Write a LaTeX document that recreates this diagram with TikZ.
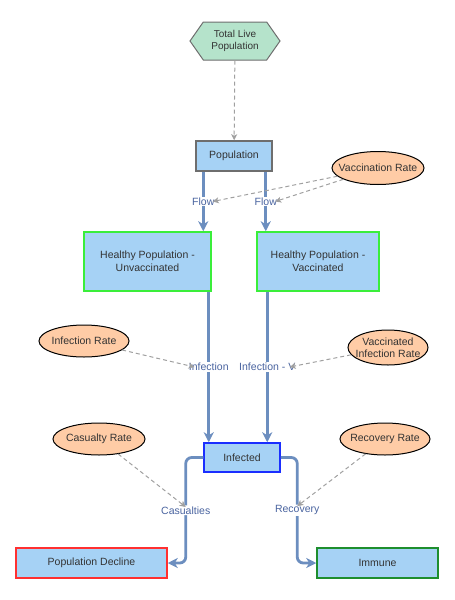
\documentclass[tikz,border=0pt]{standalone}
\usepackage{fontspec}
\setmainfont{Liberation Sans}
\usepackage{xcolor}
\usetikzlibrary{shapes.geometric, shapes.symbols, arrows.meta}
\definecolor{boxblue}{HTML}{A6D2F5}
\definecolor{peach}{HTML}{FFCCA6}
\definecolor{mint}{HTML}{B5E3CB}
\definecolor{hexgray}{HTML}{6E6E6E}
\definecolor{flowblue}{HTML}{6C8EBF}
\definecolor{labelblue}{HTML}{4A64A0}
\definecolor{textgray}{HTML}{333333}
\definecolor{dashgray}{HTML}{A0A0A0}
\definecolor{brightgreen}{HTML}{3AEE3A}
\definecolor{darkgreen}{HTML}{1E8E2E}
\definecolor{alertred}{HTML}{FF3030}
\definecolor{infblue}{HTML}{1A2EFF}
\tikzstyle{stock} = [font=\fontsize{10.5}{13}\selectfont, rectangle, minimum width=76pt, minimum height=30pt, align=center, draw=hexgray, line width=1.5pt, fill=boxblue, text=textgray]
\tikzstyle{rate} = [ellipse, minimum width=92pt, minimum height=33pt, inner sep=0pt, draw=black, line width=1pt, fill=peach]
\tikzstyle{rate text} = [font=\fontsize{10.5}{12}\selectfont, align=center, text=textgray]
\tikzstyle{source} = [font=\fontsize{10}{11.5}\selectfont, signal, signal to=east and west, signal pointer angle=110, minimum width=90pt, minimum height=38pt, inner sep=0pt, align=center, draw=hexgray, line width=1pt, fill=mint, text=textgray]
\tikzstyle{flowlabel} = [font=\fontsize{10.5}{12}\selectfont, fill=white, inner sep=1pt, text=labelblue]
\tikzstyle{flow} = [line width=2.8pt, draw=flowblue, -{Stealth[length=10pt, width=10pt, inset=3pt]}]
\tikzstyle{link} = [dash pattern=on 4pt off 3pt, line width=1pt, draw=dashgray, -{Stealth[length=6pt, width=6pt, inset=1.5pt]}]

\begin{document}
\begin{tikzpicture}[x=1pt, y=-1pt]
  \useasboundingbox (0,0) rectangle (455,600);
  \node (total_pop) [source] at (235,41) {Total Live\\Population};
  \node (population) [stock] at (234,156) {Population};
  \node (vacc_rate) [rate, label={[rate text]center:Vaccination Rate}] at (378,168) {};
  \node (unvacc) [stock, draw=brightgreen, minimum width=127pt, minimum height=59pt] at (147.5,261.5) {Healthy Population -\\Unvaccinated};
  \node (vacc) [stock, draw=brightgreen, minimum width=122pt, minimum height=59pt] at (318,261.5) {Healthy Population -\\Vaccinated};
  \node (inf_rate) [rate, minimum width=90pt, minimum height=32pt, label={[rate text]center:Infection Rate}] at (84,341) {};
  \node (vinf_rate) [rate, minimum width=80pt, minimum height=35pt, label={[rate text]center:Vaccinated\\Infection Rate}] at (388,347.5) {};
  \node (cas_rate) [rate, minimum height=32pt, label={[rate text]center:Casualty Rate}] at (99,439) {};
  \node (rec_rate) [rate, minimum width=90pt, minimum height=32pt, label={[rate text]center:Recovery Rate}] at (385,439) {};
  \node (infected) [stock, draw=infblue, minimum height=29pt] at (242,457.5) {Infected};
  \node (pop_decline) [stock, draw=alertred, minimum width=151pt] at (91.5,563) {Population Decline};
  \node (immune) [stock, draw=darkgreen, minimum width=121pt] at (377.5,563) {Immune};
  \draw[link](total_pop) -- (population);
  \draw[flow]([xshift=8pt]population.south west) -- node (flow_u) [flowlabel]{Flow} ([xshift=8pt]population.south west |- unvacc.north);
  \draw[flow]([xshift=-7pt]population.south east) -- node (flow_v) [flowlabel]{Flow} ([xshift=-7pt]population.south east |- vacc.north);
  \draw[flow]([xshift=-3pt]unvacc.south east) -- node (infection_u) [flowlabel]{Infection} ([xshift=-3pt]unvacc.south east |- infected.north);
  \draw[flow]([xshift=11pt]vacc.south west) -- node (infection_v) [flowlabel]{Infection - V} ([xshift=11pt]vacc.south west |- infected.north);
  \draw[flow, rounded corners=6pt](infected.west) -| node (casualties) [flowlabel, pos=0.75]{Casualties} ([xshift=18pt]pop_decline.east) -- (pop_decline.east);
  \draw[flow, rounded corners=6pt](infected.east) -| node (recovery) [flowlabel, pos=0.75]{Recovery} ([xshift=-19pt]immune.west) -- (immune.west);
  \draw[link](vacc_rate) -- ([xshift=-4pt]flow_u.east);
  \draw[link](vacc_rate) -- ([xshift=-4pt]flow_v.east);
  \draw[link](inf_rate) -- ([xshift=8pt]infection_u.west);
  \draw[link](vinf_rate) -- ([xshift=-8pt]infection_v.east);
  \draw[link](cas_rate) -- ([yshift=-3pt]casualties.north);
  \draw[link](rec_rate) -- ([yshift=-3pt]recovery.north);
\end{tikzpicture}
\end{document}
